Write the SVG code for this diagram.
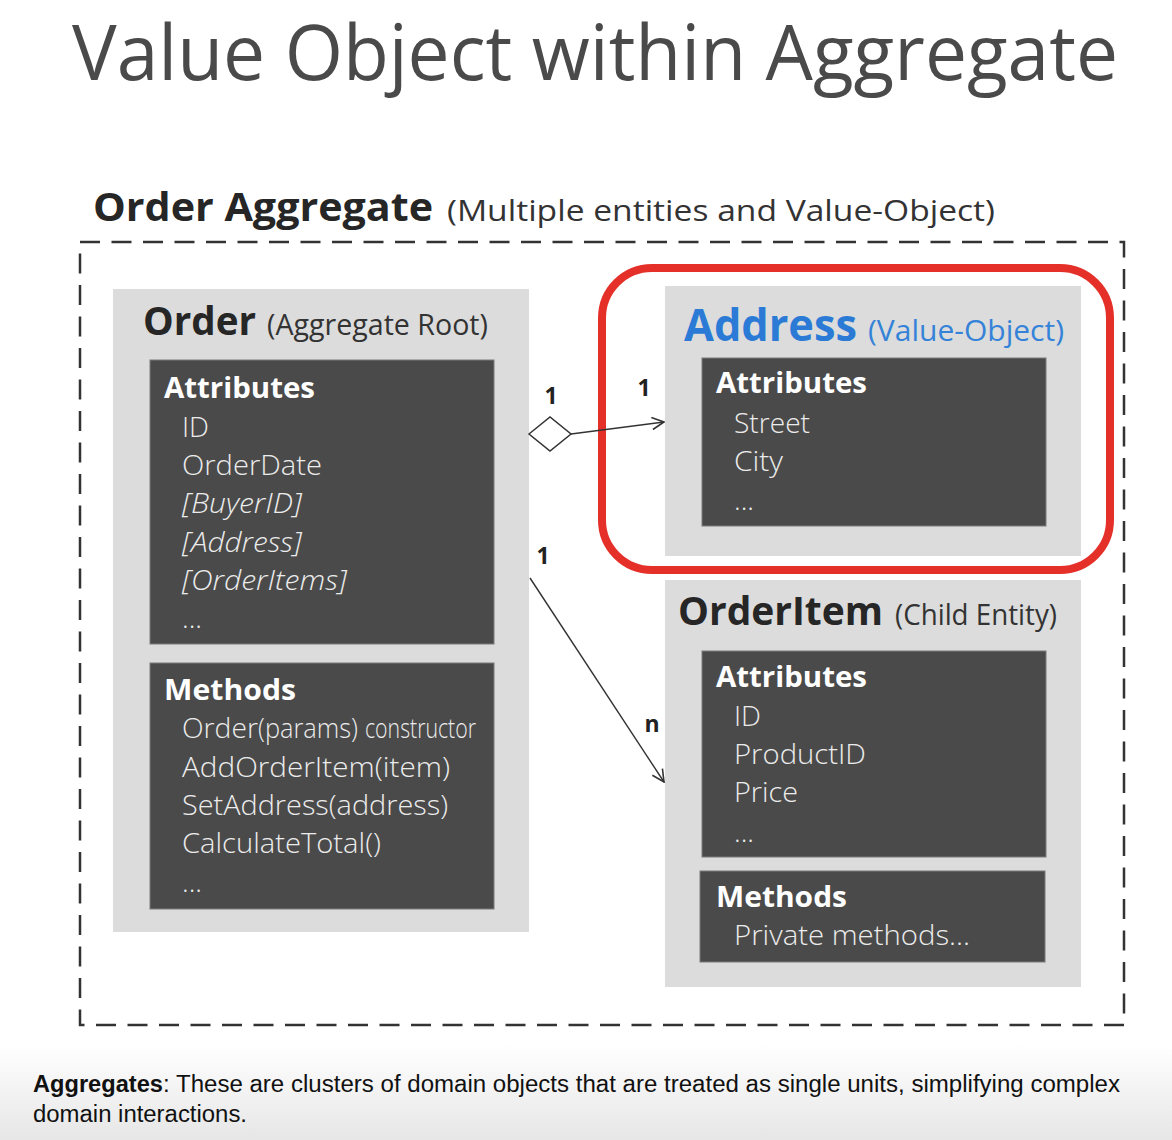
<svg xmlns="http://www.w3.org/2000/svg" width="1172" height="1140" viewBox="0 0 1172 1140">
  <defs>
    <linearGradient id="bottomFade" x1="0" y1="0" x2="0" y2="1">
      <stop offset="0" stop-color="#ffffff"/>
      <stop offset="1" stop-color="#e6e6e6"/>
    </linearGradient>
    <marker id="openArrow" viewBox="0 0 14 14" refX="13" refY="7" markerWidth="14" markerHeight="14" markerUnits="userSpaceOnUse" orient="auto">
      <path d="M1,1 L13,7 L1,13" fill="none" stroke="#333333" stroke-width="1.6"/>
    </marker>
  </defs>
  <style>
    text { font-family: "Open Sans", "Noto Sans", "DejaVu Sans", sans-serif; }
    .title { font-size: 76px; fill: #4a4a4a; }
    .h1b { font-size: 40px; font-weight: 700; fill: #262626; }
    .h1r { font-size: 29px; fill: #333333; }
    .lg { fill: #dcdcdc; }
    .dk { fill: #4a4a4a; stroke: #7a7a7a; stroke-width: 1; }
    .sec { font-size: 29px; font-weight: 700; fill: #ffffff; }
    .item { font-size: 28px; font-weight: 300; fill: #ececec; }
    .ital { font-style: italic; }
    .blueb { font-size: 44px; font-weight: 700; fill: #2b7bd6; }
    .bluer { font-size: 29px; fill: #3583d8; }
    .mult { font-size: 23px; font-weight: 700; fill: #222222; }
    .conn { stroke: #333333; stroke-width: 1.4; fill: none; }
    .cap { font-family: "Liberation Sans", Arial, sans-serif; font-size: 23px; fill: #111111; }
  </style>

  <rect x="0" y="0" width="1172" height="1140" fill="#ffffff"/>
  <rect x="0" y="1045" width="1172" height="95" fill="url(#bottomFade)"/>

  <text class="title" x="72" y="80" textLength="1046" lengthAdjust="spacingAndGlyphs">Value Object within Aggregate</text>

  <g id="aggregate">
    <rect x="80" y="242" width="1044" height="783" fill="none" stroke="#333333" stroke-width="2.5" stroke-dasharray="20 11.5"/>
    <text class="h1b" x="93" y="221" textLength="340" lengthAdjust="spacingAndGlyphs">Order Aggregate</text>
    <text class="h1r" x="447" y="221" font-size="31" textLength="548" lengthAdjust="spacingAndGlyphs">(Multiple entities and Value-Object)</text>
  </g>

  <g id="order">
    <rect class="lg" x="113" y="289" width="416" height="643"/>
    <text class="h1b" x="143" y="335" textLength="113" lengthAdjust="spacingAndGlyphs">Order</text>
    <text class="h1r" x="267" y="335" textLength="221" lengthAdjust="spacingAndGlyphs">(Aggregate Root)</text>
    <rect class="dk" x="150" y="360" width="344" height="284"/>
    <text class="sec" x="164" y="398" textLength="151" lengthAdjust="spacingAndGlyphs">Attributes</text>
    <text class="item" x="182" y="437" textLength="27" lengthAdjust="spacingAndGlyphs">ID</text>
    <text class="item" x="182" y="475" textLength="140" lengthAdjust="spacingAndGlyphs">OrderDate</text>
    <text class="item ital" x="182" y="513" textLength="120" lengthAdjust="spacingAndGlyphs">[BuyerID]</text>
    <text class="item ital" x="182" y="552" textLength="120" lengthAdjust="spacingAndGlyphs">[Address]</text>
    <text class="item ital" x="182" y="590" textLength="165" lengthAdjust="spacingAndGlyphs">[OrderItems]</text>
    <text class="item" x="182" y="628">...</text>
    <rect class="dk" x="150" y="663" width="344" height="246"/>
    <text class="sec" x="164" y="700" textLength="132" lengthAdjust="spacingAndGlyphs">Methods</text>
    <text class="item" x="182" y="738" textLength="76" lengthAdjust="spacingAndGlyphs">Order</text>
    <text class="item" x="258" y="738" font-size="24" textLength="100" lengthAdjust="spacingAndGlyphs">(params)</text>
    <text class="item" x="365" y="738" font-size="21" textLength="111" lengthAdjust="spacingAndGlyphs">constructor</text>
    <text class="item" x="182" y="777" textLength="268" lengthAdjust="spacingAndGlyphs">AddOrderItem(item)</text>
    <text class="item" x="182" y="815" textLength="266" lengthAdjust="spacingAndGlyphs">SetAddress(address)</text>
    <text class="item" x="182" y="853" textLength="199" lengthAdjust="spacingAndGlyphs">CalculateTotal()</text>
    <text class="item" x="182" y="892">...</text>
  </g>

  <g id="address">
    <rect class="lg" x="665" y="286" width="416" height="270"/>
    <text class="blueb" x="684" y="341" textLength="173" lengthAdjust="spacingAndGlyphs">Address</text>
    <text class="bluer" x="868" y="341" textLength="196" lengthAdjust="spacingAndGlyphs">(Value-Object)</text>
    <rect class="dk" x="702" y="358" width="344" height="168"/>
    <text class="sec" x="716" y="393" textLength="151" lengthAdjust="spacingAndGlyphs">Attributes</text>
    <text class="item" x="734" y="433" textLength="76" lengthAdjust="spacingAndGlyphs">Street</text>
    <text class="item" x="734" y="471" textLength="49" lengthAdjust="spacingAndGlyphs">City</text>
    <text class="item" x="734" y="510">...</text>
  </g>

  <g id="highlight">
    <rect x="602" y="268" width="508" height="302" rx="50" ry="50" fill="none" stroke="#e5302a" stroke-width="8"/>
  </g>

  <g id="orderitem">
    <rect class="lg" x="665" y="580" width="416" height="407"/>
    <text class="h1b" x="678" y="625" textLength="205" lengthAdjust="spacingAndGlyphs">OrderItem</text>
    <text class="h1r" x="895" y="625" textLength="162" lengthAdjust="spacingAndGlyphs">(Child Entity)</text>
    <rect class="dk" x="702" y="651" width="344" height="206"/>
    <text class="sec" x="716" y="687" textLength="151" lengthAdjust="spacingAndGlyphs">Attributes</text>
    <text class="item" x="734" y="726" textLength="27" lengthAdjust="spacingAndGlyphs">ID</text>
    <text class="item" x="734" y="764" textLength="132" lengthAdjust="spacingAndGlyphs">ProductID</text>
    <text class="item" x="734" y="802" textLength="64" lengthAdjust="spacingAndGlyphs">Price</text>
    <text class="item" x="734" y="842">...</text>
    <rect class="dk" x="700" y="871" width="345" height="91"/>
    <text class="sec" x="716" y="907" textLength="131" lengthAdjust="spacingAndGlyphs">Methods</text>
    <text class="item" x="734" y="945" textLength="236" lengthAdjust="spacingAndGlyphs">Private methods...</text>
  </g>

  <g id="connectors">
    <polygon points="529,434 550,417 571,434 550,451" fill="#ffffff" stroke="#333333" stroke-width="1.5"/>
    <line class="conn" x1="571" y1="434" x2="664" y2="422" marker-end="url(#openArrow)"/>
    <text class="mult" x="551" y="404" text-anchor="middle">1</text>
    <text class="mult" x="644" y="396" text-anchor="middle">1</text>
    <line class="conn" x1="530" y1="578" x2="664" y2="782" marker-end="url(#openArrow)"/>
    <text class="mult" x="543" y="564" text-anchor="middle">1</text>
    <text class="mult" x="652" y="732" text-anchor="middle">n</text>
  </g>

  <g id="caption">
    <text class="cap" x="33" y="1092" font-weight="700" textLength="130" lengthAdjust="spacingAndGlyphs">Aggregates</text>
    <text class="cap" x="163" y="1092" textLength="957" lengthAdjust="spacingAndGlyphs">: These are clusters of domain objects that are treated as single units, simplifying complex</text>
    <text class="cap" x="33" y="1122" textLength="214" lengthAdjust="spacingAndGlyphs">domain interactions.</text>
  </g>
</svg>
